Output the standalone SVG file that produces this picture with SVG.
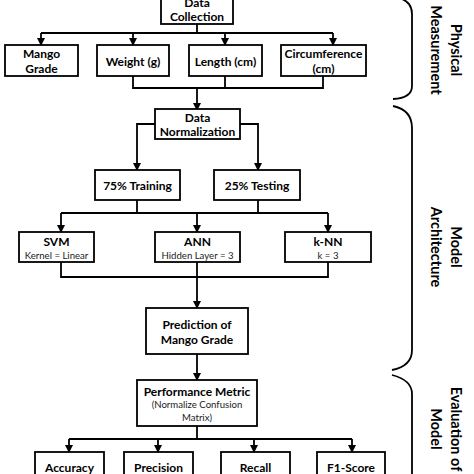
<svg xmlns="http://www.w3.org/2000/svg" width="474" height="474" viewBox="0 0 474 474">
<defs>
<marker id="ah" markerWidth="8" markerHeight="8" refX="7" refY="4" orient="auto" markerUnits="userSpaceOnUse">
<path d="M0,0 L8,4 L0,8 Z" fill="#000"/>
</marker>
<style>
.box{fill:#fff;stroke:#000;stroke-width:1.8}
.t{font-family:Lato,"Liberation Sans",sans-serif;font-weight:bold;font-size:12px;text-anchor:middle;dominant-baseline:central;fill:#000}
.s{font-family:Lato,"Liberation Sans",sans-serif;font-size:9.6px;text-anchor:middle;dominant-baseline:central;fill:#222}
.c{fill:none;stroke:#000;stroke-width:1.8}
.lab{font-family:Lato,"Liberation Sans",sans-serif;font-weight:bold;font-size:14.5px;text-anchor:middle;fill:#000}
</style>
</defs>
<rect width="474" height="474" fill="#fff"/>
<g id="connectors">
<path class="c" d="M197,24 V33 M41,33 H333"/>
<path class="c" d="M41,33 V45" marker-end="url(#ah)"/>
<path class="c" d="M133,33 V45" marker-end="url(#ah)"/>
<path class="c" d="M225,33 V45" marker-end="url(#ah)"/>
<path class="c" d="M333,33 V45" marker-end="url(#ah)"/>
<path class="c" d="M133,76 V88 H323 V76 M225,76 V88"/>
<path class="c" d="M197,88 V110" marker-end="url(#ah)"/>
<path class="c" d="M155,124 H137 V170" marker-end="url(#ah)"/>
<path class="c" d="M240,124 H258 V170" marker-end="url(#ah)"/>
<path class="c" d="M137,200 V213 M258,200 V213 M61,213 H328"/>
<path class="c" d="M61,213 V232" marker-end="url(#ah)"/>
<path class="c" d="M197,213 V232" marker-end="url(#ah)"/>
<path class="c" d="M328,213 V232" marker-end="url(#ah)"/>
<path class="c" d="M61,262 V277 H328 V262"/>
<path class="c" d="M197,262 V308" marker-end="url(#ah)"/>
<path class="c" d="M197,354 V380" marker-end="url(#ah)"/>
<path class="c" d="M197,426 V439 M69,439 H352"/>
<path class="c" d="M69,439 V452" marker-end="url(#ah)"/>
<path class="c" d="M158,439 V452" marker-end="url(#ah)"/>
<path class="c" d="M254,439 V452" marker-end="url(#ah)"/>
<path class="c" d="M352,439 V452" marker-end="url(#ah)"/>
</g>
<g id="data-collection"><rect class="box" x="161" y="-10" width="72" height="34"/><text class="t" x="197" y="2">Data</text><text class="t" x="197" y="16">Collection</text></g>
<g id="mango-grade"><rect class="box" x="5" y="45" width="73" height="31"/><text class="t" x="41.5" y="53.5">Mango</text><text class="t" x="41.5" y="68">Grade</text></g>
<g id="weight"><rect class="box" x="97" y="45" width="72" height="31"/><text class="t" x="133" y="61">Weight (g)</text></g>
<g id="length"><rect class="box" x="189" y="45" width="73" height="31"/><text class="t" x="225.5" y="61">Length (cm)</text></g>
<g id="circumference"><rect class="box" x="281" y="45" width="85" height="31"/><text class="t" x="323.5" y="53.5">Circumference</text><text class="t" x="323.5" y="68.5">(cm)</text></g>
<g id="data-normalization"><rect class="box" x="155" y="109" width="85" height="30"/><text class="t" x="197.5" y="117">Data</text><text class="t" x="197.5" y="131">Normalization</text></g>
<g id="training"><rect class="box" x="95" y="170" width="85" height="30"/><text class="t" x="137.5" y="185.5">75% Training</text></g>
<g id="testing"><rect class="box" x="214" y="170" width="86" height="30"/><text class="t" x="257" y="185.5">25% Testing</text></g>
<g id="svm"><rect class="box" x="19" y="232" width="75" height="30"/><text class="t" x="56.5" y="241">SVM</text><text class="s" x="56.5" y="255">Kernel = Linear</text></g>
<g id="ann"><rect class="box" x="155" y="232" width="85" height="30"/><text class="t" x="197.5" y="241">ANN</text><text class="s" x="197.5" y="255">Hidden Layer = 3</text></g>
<g id="knn"><rect class="box" x="285" y="232" width="86" height="30"/><text class="t" x="328" y="241">k-NN</text><text class="s" x="328" y="255">k = 3</text></g>
<g id="prediction"><rect class="box" x="146" y="308" width="102" height="46"/><text class="t" x="197" y="324">Prediction of</text><text class="t" x="197" y="339">Mango Grade</text></g>
<g id="performance"><rect class="box" x="137" y="380" width="120" height="46"/><text class="t" x="197" y="391">Performance Metric</text><text class="s" x="197" y="404.5">(Normalize Confusion</text><text class="s" x="197" y="417.5">Matrix)</text></g>
<g id="accuracy"><rect class="box" x="35" y="452" width="69" height="30"/><text class="t" x="69.5" y="467">Accuracy</text></g>
<g id="precision"><rect class="box" x="124" y="452" width="69" height="30"/><text class="t" x="158.5" y="467">Precision</text></g>
<g id="recall"><rect class="box" x="221" y="452" width="69" height="30"/><text class="t" x="255.5" y="467">Recall</text></g>
<g id="f1"><rect class="box" x="317" y="452" width="68" height="30"/><text class="t" x="351" y="467">F1-Score</text></g>
<g id="braces">
<path class="c" d="M402,-1 Q412,3 412,14 V86 Q412,98 393,99"/>
<path class="c" d="M393,106 Q412,110 412,128 V350 Q412,366 392,370"/>
<path class="c" d="M392,375 Q412,380 412,394 V480"/>
</g>
<g id="labels">
<text class="lab" transform="translate(451,50) rotate(90)">Physical</text>
<text class="lab" transform="translate(431,50) rotate(90)">Measurement</text>
<text class="lab" transform="translate(451,247) rotate(90)">Model</text>
<text class="lab" transform="translate(431,247) rotate(90)">Architecture</text>
<text class="lab" transform="translate(451,429) rotate(90)">Evaluation of</text>
<text class="lab" transform="translate(431,429) rotate(90)">Model</text>
</g>
</svg>
